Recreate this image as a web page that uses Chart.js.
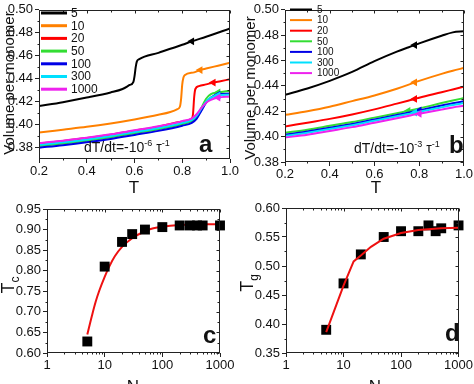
<!DOCTYPE html>
<html><head><meta charset="utf-8">
<script src="https://cdn.jsdelivr.net/npm/chart.js@4/dist/chart.umd.min.js"></script>
<style>
html,body{margin:0;padding:0;background:#fff;width:474px;height:384px;overflow:hidden}
canvas{position:absolute;left:0;top:0}
</style></head><body>
<canvas id="pa" width="474" height="384"></canvas>
<canvas id="pb" width="474" height="384"></canvas>
<canvas id="pc" width="474" height="384"></canvas>
<canvas id="pd" width="474" height="384"></canvas>
<script>
// ---------- data ----------
const seriesN = ['5','10','20','50','100','300','1000'];
const seriesColors = ['#000000','#ff8000','#ff0000','#33dd33','#0000e6','#00e0ff','#ee22ee'];

// panel a : dT/dt = -1e-6
const aT_5  = [0.2,0.3,0.4,0.5,0.55,0.58,0.595,0.60,0.605,0.61,0.62,0.7,0.8,0.84,0.9,1.0];
const aV_5  = [0.4161,0.4195,0.4235,0.428,0.431,0.4345,0.437,0.442,0.450,0.455,0.457,0.4625,0.4695,0.4725,0.4765,0.4837];
const aT_10 = [0.2,0.3,0.4,0.5,0.6,0.7,0.75,0.78,0.79,0.795,0.80,0.805,0.81,0.85,0.875,0.9,0.95,1.0];
const aV_10 = [0.393,0.3955,0.398,0.401,0.4045,0.4085,0.411,0.4135,0.4155,0.422,0.435,0.441,0.443,0.4455,0.4475,0.4488,0.4513,0.4538];
const aT_20 = [0.2,0.3,0.4,0.5,0.6,0.7,0.8,0.84,0.845,0.85,0.855,0.87,0.9,0.93,0.96,1.0];
const aV_20 = [0.3835,0.3857,0.3882,0.3912,0.3947,0.3982,0.4027,0.4052,0.409,0.424,0.431,0.4335,0.435,0.4366,0.4378,0.4395];
const aT_low = [0.2,0.3,0.4,0.5,0.6,0.7,0.8,0.84,0.86,0.88,0.9,0.92,0.95,1.0];
const aV_50   = [0.3813,0.3835,0.386,0.389,0.3925,0.396,0.4005,0.403,0.4065,0.4145,0.4225,0.4265,0.428,0.4295];
const aV_100  = [0.3799,0.382,0.3845,0.3875,0.391,0.3945,0.399,0.4015,0.405,0.412,0.419,0.4235,0.426,0.427];
const aV_300  = [0.3824,0.3845,0.387,0.390,0.3935,0.397,0.4015,0.404,0.4075,0.414,0.420,0.4235,0.4255,0.426];
const aV_1000 = [0.3838,0.386,0.3885,0.3915,0.395,0.3985,0.403,0.4055,0.409,0.4145,0.419,0.4215,0.4235,0.4245];
const aArrowT = [0.84,0.875,0.93,0.95,0.95,0.95,0.95];

// panel b : dT/dt = -1e-3
const bT = [0.2,0.3,0.4,0.5,0.6,0.7,0.75,0.78,0.8,0.9,0.95,1.0];
const bV_5    = [0.433,0.438,0.444,0.451,0.4595,0.467,0.4703,0.4722,0.4735,0.4795,0.4822,0.483];
const bV_10   = [0.4172,0.420,0.4235,0.428,0.4325,0.4378,0.4408,0.4428,0.444,0.4495,0.452,0.4541];
const bV_20   = [0.408,0.411,0.414,0.4175,0.4215,0.426,0.4283,0.4297,0.4307,0.435,0.4372,0.4394];
const bV_50   = [0.4031,0.4055,0.4085,0.4115,0.415,0.4185,0.4203,0.4215,0.4222,0.4265,0.4285,0.4304];
const bV_100  = [0.4014,0.404,0.407,0.410,0.4135,0.417,0.4188,0.420,0.4207,0.4245,0.4263,0.4279];
const bV_300  = [0.4005,0.403,0.406,0.409,0.4125,0.416,0.4178,0.419,0.4196,0.4232,0.425,0.4265];
const bV_1000 = [0.3993,0.4015,0.4045,0.4075,0.411,0.4145,0.4163,0.4174,0.418,0.4213,0.423,0.4243];
const bArrowT = [0.78,0.78,0.78,0.75,0.8,0.78,0.8];

// panel c : Tc vs N
const cN  = [5,10,20,30,50,100,200,300,400,500,1000];
const cTc = [0.628,0.81,0.87,0.889,0.90,0.906,0.91,0.91,0.91,0.91,0.91];
const cFitN  = [5,6,7,8,10,12,15,20,30,50,70,100,200,500,1000];
const cFitTc = [0.645,0.69,0.725,0.75,0.785,0.81,0.835,0.858,0.879,0.896,0.903,0.907,0.911,0.913,0.913];

// panel d : Tg vs N
const dN   = [5,10,20,50,100,200,300,400,500,1000];
const dTg  = [0.39,0.47,0.52,0.55,0.56,0.56,0.57,0.56,0.565,0.57];
const dErr = [0.006,0.006,0.006,0.006,0.006,0.006,0.006,0.006,0.006,0.006];
const dFitN  = [5,10,15,20,30,50,100,200,500,1000];
const dFitTg = [0.386,0.466,0.508,0.518,0.533,0.547,0.557,0.562,0.565,0.566];

// tick labels
const tTicks  = [0.2,0.4,0.6,0.8,1.0];
const vTicksA = [0.38,0.40,0.42,0.44,0.46,0.48,0.50];
const vTicksB = [0.38,0.40,0.42,0.44,0.46,0.48,0.50];
const nTicks  = [1,10,100,1000];
const tcTicks = [0.60,0.65,0.70,0.75,0.80,0.85,0.90,0.95];
const tgTicks = [0.35,0.40,0.45,0.50,0.55,0.60];

// ---------- helpers ----------
const FONT = "'Liberation Sans', Arial, sans-serif";
const pts = (xs, ys) => xs.map((x, i) => ({x, y: ys[i]}));
const YW = 42, XH = 24;

function drawRich(ctx, parts, x, y, size, opts) {
  opts = opts || {};
  const weight = opts.bold ? 'bold ' : '';
  const fontOf = k => weight + (k === 'n' ? size : Math.round(size * 0.65)) + 'px ' + FONT;
  let w = 0;
  parts.forEach(p => { ctx.font = fontOf(p[1]); w += ctx.measureText(p[0]).width; });
  ctx.save();
  ctx.translate(x, y);
  if (opts.rot) ctx.rotate(opts.rot);
  ctx.fillStyle = opts.color || '#111';
  ctx.textBaseline = 'alphabetic';
  ctx.textAlign = 'left';
  let cx = opts.align === 'center' ? -w / 2 : (opts.align === 'right' ? -w : 0);
  parts.forEach(p => {
    ctx.font = fontOf(p[1]);
    const dy = p[1] === 'sup' ? -size * 0.42 : (p[1] === 'sub' ? size * 0.28 : 0);
    ctx.fillText(p[0], cx, dy);
    cx += ctx.measureText(p[0]).width;
  });
  ctx.restore();
}

const decor = {
  id: 'decor',
  beforeDatasetsDraw(chart, args, o) {
    if (!o.err) return;
    const {ctx} = chart, xs = chart.scales.x, ys = chart.scales.y;
    ctx.save();
    ctx.strokeStyle = '#8a8a8a'; ctx.lineWidth = 1;
    o.err.x.forEach((n, i) => {
      const px = xs.getPixelForValue(n);
      const y1 = ys.getPixelForValue(o.err.y[i] + o.err.e[i]);
      const y2 = ys.getPixelForValue(o.err.y[i] - o.err.e[i]);
      ctx.beginPath();
      ctx.moveTo(px, y1); ctx.lineTo(px, y2);
      ctx.moveTo(px - 2, y1); ctx.lineTo(px + 2, y1);
      ctx.moveTo(px - 2, y2); ctx.lineTo(px + 2, y2);
      ctx.stroke();
    });
    ctx.restore();
  },
  afterDraw(chart, args, o) {
    const {ctx, chartArea: a} = chart;
    const xs = chart.scales.x, ys = chart.scales.y;
    ctx.save();
    ctx.strokeStyle = '#222'; ctx.lineWidth = 1;
    ctx.strokeRect(Math.round(a.left) + 0.5, Math.round(a.top) + 0.5,
                   Math.round(a.right - a.left) - 1, Math.round(a.bottom - a.top) - 1);
    const xMaj = xs.ticks.map(t => t.value), yMaj = ys.ticks.map(t => t.value);
    let xMin = [], yMin = [];
    if (xs.type === 'logarithmic') {
      for (let d = 1; d < 1000; d *= 10) for (let k = 2; k <= 9; k++) xMin.push(k * d);
    } else {
      for (let i = 0; i < xMaj.length - 1; i++) xMin.push((xMaj[i] + xMaj[i + 1]) / 2);
    }
    for (let i = 0; i < yMaj.length - 1; i++) yMin.push((yMaj[i] + yMaj[i + 1]) / 2);
    if (ys.min < yMaj[0]) yMin.push(yMaj[0] - (yMaj[1] - yMaj[0]) / 2);
    ctx.beginPath();
    const L = Math.round(a.left) + 0.5, R = Math.round(a.right) - 0.5;
    const T = Math.round(a.top) + 0.5, B = Math.round(a.bottom) - 0.5;
    xMaj.forEach(v => { const p = Math.round(xs.getPixelForValue(v)) + 0.5; ctx.moveTo(p, T); ctx.lineTo(p, T + 3); });
    yMaj.forEach(v => { const p = Math.round(ys.getPixelForValue(v)) + 0.5; ctx.moveTo(R, p); ctx.lineTo(R - 3, p); });
    xMin.forEach(v => { const p = Math.round(xs.getPixelForValue(v)) + 0.5; if (p < a.left || p > a.right) return;
      ctx.moveTo(p, T); ctx.lineTo(p, T + 2); ctx.moveTo(p, B); ctx.lineTo(p, B + 2); });
    yMin.forEach(v => { const p = Math.round(ys.getPixelForValue(v)) + 0.5; if (p < a.top || p > a.bottom) return;
      ctx.moveTo(R, p); ctx.lineTo(R - 2, p); ctx.moveTo(L, p); ctx.lineTo(L - 2, p); });
    ctx.stroke();
    if (o.legend) {
      const lg = o.legend;
      ctx.font = lg.size + 'px ' + FONT;
      ctx.textBaseline = 'middle'; ctx.textAlign = 'left';
      let row = 0;
      chart.data.datasets.forEach(ds => {
        if (!ds.inLegend) return;
        const y = lg.y + row * lg.dy;
        ctx.strokeStyle = ds.borderColor; ctx.lineWidth = lg.lw;
        ctx.beginPath(); ctx.moveTo(lg.x, y); ctx.lineTo(lg.x + lg.len, y); ctx.stroke();
        ctx.fillStyle = '#111';
        ctx.fillText(ds.label, lg.x + lg.len + lg.gap, y + 0.5);
        row++;
      });
    }
    (o.texts || []).forEach(t => drawRich(ctx, t.parts, t.x, t.y, t.size, t));
    ctx.restore();
  }
};
Chart.register(decor);

function axisX(type, min, max, ticks, fmt) {
  return {
    type, min, max, position: 'bottom',
    afterFit: s => { s.height = XH; },
    afterBuildTicks: s => { s.ticks = ticks.map(v => ({value: v})); },
    grid: {display: true, drawOnChartArea: false, drawTicks: true, tickLength: 4, color: '#222'},
    border: {display: false},
    ticks: {font: {family: FONT, size: 13}, color: '#111', padding: 1, maxRotation: 0, minRotation: 0, autoSkip: false,
            callback: v => fmt(v)}
  };
}
function axisY(min, max, ticks, fmt) {
  return {
    type: 'linear', min, max, position: 'left',
    afterFit: s => { s.width = YW; },
    afterBuildTicks: s => { s.ticks = ticks.map(v => ({value: v})); },
    grid: {display: true, drawOnChartArea: false, drawTicks: true, tickLength: 4, color: '#222'},
    border: {display: false},
    ticks: {font: {family: FONT, size: 13}, color: '#111', padding: 2, autoSkip: false,
            callback: v => fmt(v)}
  };
}
function pad(l, t, r, b) { return {left: l - YW, top: t, right: 474 - r, bottom: 384 - b - XH}; }

function curveSets(list, arrows) {
  return list.map((s, i) => ({
    label: seriesN[i], inLegend: true, data: pts(s[0], s[1]),
    borderColor: seriesColors[i], backgroundColor: seriesColors[i],
    borderWidth: 2, showLine: true, cubicInterpolationMode: 'monotone',
    order: -i,
    pointStyle: 'triangle', rotation: -90,
    pointRadius: c => (c.raw && c.raw.x === arrows[i]) ? 4.5 : 0,
    pointHoverRadius: 0, pointBorderWidth: 0
  }));
}

const common = {responsive: false, animation: false, devicePixelRatio: 1,
  plugins: {legend: {display: false}, tooltip: {enabled: false}}, events: []};

// ---------- panel a ----------
new Chart(document.getElementById('pa'), {
  type: 'scatter',
  data: {datasets: curveSets([[aT_5, aV_5], [aT_10, aV_10], [aT_20, aV_20], [aT_low, aV_50],
                              [aT_low, aV_100], [aT_low, aV_300], [aT_low, aV_1000]], aArrowT)},
  options: Object.assign({}, common, {
    layout: {padding: pad(39, 7, 230, 159)},
    scales: {x: axisX('linear', 0.2, 1.0, tTicks, v => v.toFixed(1)),
             y: axisY(0.37, 0.50, vTicksA, v => v.toFixed(2))},
    plugins: Object.assign({}, common.plugins, {decor: {
      legend: {x: 41, y: 13, dy: 12.7, len: 26, gap: 4, size: 12, lw: 3},
      texts: [
        {parts: [['Volume per monomer', 'n']], x: 14, y: 83, size: 15, rot: -Math.PI / 2, align: 'center'},
        {parts: [['T', 'n']], x: 134, y: 193, size: 17, align: 'center'},
        {parts: [['dT/dt=-10', 'n'], ['-6', 'sup'], [' \u03c4', 'n'], ['-1', 'sup']], x: 84, y: 152, size: 14},
        {parts: [['a', 'n']], x: 199, y: 152, size: 24, bold: true}
      ]}})
  })
});

// ---------- panel b ----------
new Chart(document.getElementById('pb'), {
  type: 'scatter',
  data: {datasets: curveSets([[bT, bV_5], [bT, bV_10], [bT, bV_20], [bT, bV_50],
                              [bT, bV_100], [bT, bV_300], [bT, bV_1000]], bArrowT)},
  options: Object.assign({}, common, {
    layout: {padding: pad(285, 5, 467, 162)},
    scales: {x: axisX('linear', 0.2, 1.0, tTicks, v => v.toFixed(1)),
             y: axisY(0.38, 0.50, vTicksB, v => v.toFixed(2))},
    plugins: Object.assign({}, common.plugins, {decor: {
      legend: {x: 290, y: 9.5, dy: 10.6, len: 22, gap: 5, size: 10, lw: 2},
      texts: [
        {parts: [['Volume per monomer', 'n']], x: 255, y: 88, size: 15, rot: -Math.PI / 2, align: 'center'},
        {parts: [['T', 'n']], x: 376, y: 193, size: 17, align: 'center'},
        {parts: [['dT/dt=-10', 'n'], ['-3', 'sup'], [' \u03c4', 'n'], ['-1', 'sup']], x: 354, y: 153, size: 14},
        {parts: [['b', 'n']], x: 449, y: 153, size: 24, bold: true}
      ]}})
  })
});

// ---------- panel c ----------
new Chart(document.getElementById('pc'), {
  type: 'scatter',
  data: {datasets: [
    {label: 'fit', data: pts(cFitN, cFitTc), showLine: true, borderColor: '#ee1111', borderWidth: 2,
     pointRadius: 0, cubicInterpolationMode: 'monotone', order: 1},
    {label: 'Tc', data: pts(cN, cTc), backgroundColor: '#000', borderColor: '#000', pointStyle: 'rect',
     pointRadius: 7, borderWidth: 0, clip: false, order: 0}
  ]},
  options: Object.assign({}, common, {
    layout: {padding: pad(47, 209, 220, 353)},
    scales: {x: axisX('logarithmic', 1, 1000, nTicks, v => String(v)),
             y: axisY(0.60, 0.95, tcTicks, v => v.toFixed(2))},
    plugins: Object.assign({}, common.plugins, {decor: {
      texts: [
        {parts: [['T', 'n'], ['c', 'sub']], x: 14, y: 285, size: 18, rot: -Math.PI / 2, align: 'center'},
        {parts: [['N', 'n']], x: 133, y: 392, size: 17, align: 'center'},
        {parts: [['c', 'n']], x: 203, y: 343, size: 24, bold: true}
      ]}})
  })
});

// ---------- panel d ----------
new Chart(document.getElementById('pd'), {
  type: 'scatter',
  data: {datasets: [
    {label: 'fit', data: pts(dFitN, dFitTg), showLine: true, borderColor: '#ee1111', borderWidth: 2,
     pointRadius: 0, tension: 0, order: 0},
    {label: 'Tg', data: pts(dN, dTg), backgroundColor: '#000', borderColor: '#000', pointStyle: 'rect',
     pointRadius: 7, borderWidth: 0, clip: false, order: 1}
  ]},
  options: Object.assign({}, common, {
    layout: {padding: pad(286, 208, 464, 353)},
    scales: {x: axisX('logarithmic', 1, 1000, nTicks, v => String(v)),
             y: axisY(0.35, 0.60, tgTicks, v => v.toFixed(2))},
    plugins: Object.assign({}, common.plugins, {decor: {
      err: {x: dN, y: dTg, e: dErr},
      texts: [
        {parts: [['T', 'n'], ['g', 'sub']], x: 253, y: 283, size: 18, rot: -Math.PI / 2, align: 'center'},
        {parts: [['N', 'n']], x: 375, y: 392, size: 17, align: 'center'},
        {parts: [['d', 'n']], x: 445, y: 341, size: 24, bold: true}
      ]}})
  })
});
</script>
</body></html>
